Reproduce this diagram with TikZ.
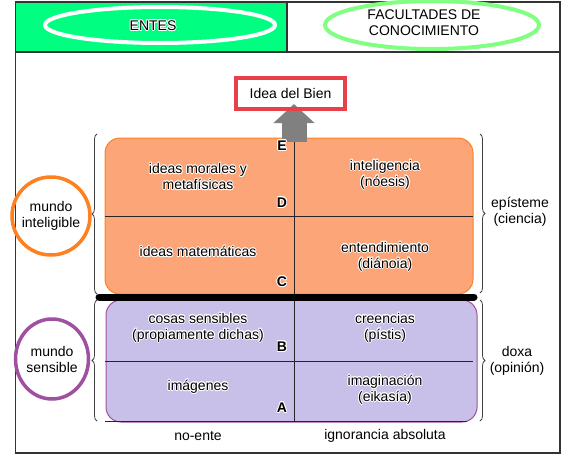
\documentclass[tikz,border=0pt]{standalone}
\usepackage{fontspec}
\setmainfont{Liberation Sans}
\usepackage[copies]{contour}
\contourlength{0.8pt}
\usetikzlibrary{decorations.pathreplacing,arrows.meta,shapes.geometric}
\definecolor{entesgreen}{RGB}{0,255,128}
\definecolor{facgreen}{RGB}{128,255,128}
\definecolor{bienred}{RGB}{232,64,74}
\definecolor{intorange}{RGB}{252,165,120}
\definecolor{intborder}{RGB}{255,128,32}
\definecolor{senslav}{RGB}{200,192,232}
\definecolor{sensborder}{RGB}{160,80,160}
\newcommand{\halo}[1]{\contour{white}{#1}}
\tikzset{
  txt/.style={align=center, inner sep=0pt, font=\fontsize{14}{16}\selectfont},
  letterlbl/.style={inner sep=0pt, font=\fontsize{14}{16}\selectfont\bfseries},
  frame/.style={draw=black!80, line width=1.3pt},
  gridline/.style={draw=black!85, line width=1pt},
  brc/.style={draw=black!75, line width=0.8pt, decorate, decoration={brace, amplitude=5pt}}
}
\begin{document}
\begin{tikzpicture}[x=1pt, y=-1pt]
\useasboundingbox (0,0) rectangle (575,469);
% header
\fill[entesgreen] (15.5,2) rectangle (287,52);
\draw[frame] (15.5,2) rectangle (560,453);
\draw[frame] (287,2) -- (287,52);
\draw[frame] (15.5,52) -- (560,52);
\node[ellipse, draw=white, line width=4pt, minimum width=230, minimum height=36] (entesell) at (160,25) {};
\node[txt] (entes) at (153,26) {\halo{ENTES}};
\node[ellipse, draw=facgreen, line width=4pt, minimum width=214, minimum height=48] (facell) at (432,25) {};
\node[txt] (fac) at (424,23) {\halo{FACULTADES DE}\\\halo{CONOCIMIENTO}};

% boxes
\draw[fill=intorange, draw=intborder, line width=1pt, rounded corners=15pt] (105,138) rectangle (473,294);
\draw[fill=senslav, draw=sensborder, line width=1pt, rounded corners=15pt] (106,300) rectangle (477,422);
\draw[gridline] (105,421) -- (467,421);
\draw[gridline] (294,138) -- (294,421);
\draw[gridline] (105,216) -- (473,216);
\draw[gridline] (105,361) -- (473,361);
\draw[line width=7pt, line cap=round] (99,297) -- (474,297);

% arrow to the Good
\coordinate (foot) at (294,142);
\coordinate (tip) at (294,104);
\draw[gray, line width=25pt, -{Triangle[length=19pt, width=40pt]}] (foot) -- (tip);
\node[draw=bienred, line width=4pt, minimum width=109, minimum height=31, inner sep=0pt, font=\fontsize{14}{16}\selectfont] (bien) at (290.5,93.5) {Idea del Bien};

% letters
\node[letterlbl] (E) at (282,146) {\halo{E}};
\node[letterlbl] (D) at (282,203) {\halo{D}};
\node[letterlbl] (C) at (282,282) {\halo{C}};
\node[letterlbl] (B) at (282,347) {\halo{B}};
\node[letterlbl] (A) at (282,408) {\halo{A}};

% cells
\node[txt] (morales) at (198,177) {\halo{ideas morales y}\\\halo{metafísicas}};
\node[txt] (matem) at (198,252) {\halo{ideas matemáticas}};
\node[txt] (noesis) at (385,175) {\halo{inteligencia}\\\halo{(nóesis)}};
\node[txt] (dianoia) at (385,257) {\halo{entendimiento}\\\halo{(diánoia)}};
\node[txt] (cosas) at (198,328) {\halo{cosas sensibles}\\\halo{(propiamente dichas)}};
\node[txt] (imagenes) at (198,387) {\halo{imágenes}};
\node[txt] (pistis) at (385,328) {\halo{creencias}\\\halo{(pístis)}};
\node[txt] (eikasia) at (385,390) {\halo{imaginación}\\\halo{(eikasía)}};
\node[txt] (noente) at (198,436) {no-ente};
\node[txt] (ignor) at (385,436) {ignorancia absoluta};

% braces
\draw[brc] (97,294) -- (97,134);
\draw[brc] (97,421) -- (97,300);
\draw[brc] (480,134) -- (480,293);
\draw[brc] (480,300) -- (480,421);
\node[txt] (episteme) at (520,212) {epísteme\\(ciencia)};
\node[txt] (doxa) at (517,361) {doxa\\(opinión)};

% worlds
\node[circle, draw=intborder, line width=3.5pt, minimum size=78, txt] (inteligible) at (51,216) {mundo\\inteligible};
\node[ellipse, draw=sensborder, line width=3.5pt, minimum width=73, minimum height=80, txt] (sensible) at (52,359) {mundo\\sensible};
\end{tikzpicture}
\end{document}
